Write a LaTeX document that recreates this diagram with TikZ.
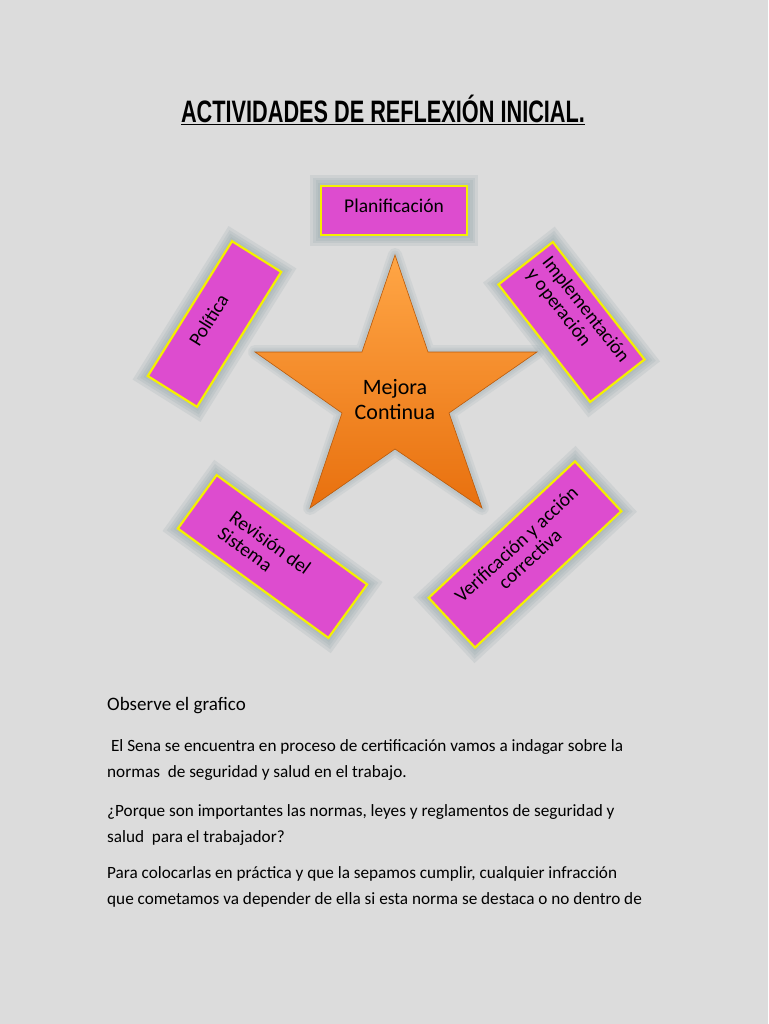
\documentclass[tikz,border=0pt]{standalone}
\usepackage{fontspec}
\setmainfont{Carlito}
\newfontfamily\titlefont{Liberation Sans}
\usetikzlibrary{calc}
\definecolor{bg}{HTML}{DCDCDC}
\definecolor{mag}{HTML}{DD4CCF}
\definecolor{yel}{HTML}{F4F000}
\definecolor{orA}{HTML}{FFA646}
\definecolor{orB}{HTML}{E8700E}
\definecolor{glc}{HTML}{8FA3A8}
\tikzset{
 x=1pt,y=-1pt,
 glow/.style={draw=glc,line width=#1,opacity=0.18},
 boxst/.style={draw=yel,line width=2.2pt,fill=mag,inner sep=0pt,text=black,align=center},
 bodyt/.style={anchor=west,inner sep=0pt,font=\fontsize{17.2}{20}\selectfont},
 btext/.style={font=\fontsize{19.5}{21}\selectfont},
}
\newcommand{\pbox}[6]{% name, x, y, w, h, angle
 \foreach \lw in {22pt,16pt,11pt,6pt}{
 \node[glow=\lw,minimum width=#4pt,minimum height=#5pt,rotate=#6] at (#2,#3) {};}
 \node[boxst,minimum width=#4pt,minimum height=#5pt,rotate=#6] (#1) at (#2,#3) {};}
\begin{document}
\begin{tikzpicture}
\fill[bg] (0,0) rectangle (768,1024);
\useasboundingbox (0,0) rectangle (768,1024);
\node[inner sep=0pt] (title) at (383,110) {\titlefont\bfseries\fontsize{31}{32}\selectfont\scalebox{0.70}[1]{\underline{ACTIVIDADES DE REFLEXIÓN INICIAL.}}};
% star
\coordinate (s1) at (395,255);
\coordinate (s2) at (428,352);
\coordinate (s3) at (537,352);
\coordinate (s4) at (449,413);
\coordinate (s5) at (482,508);
\coordinate (s6) at (395,449);
\coordinate (s7) at (310,508);
\coordinate (s8) at (342,413);
\coordinate (s9) at (255,352);
\coordinate (s10) at (362,352);
\foreach \lw in {14pt,9pt,5pt}{
\draw[line width=\lw,opacity=0.15,glc,line join=round] (s1)--(s2)--(s3)--(s4)--(s5)--(s6)--(s7)--(s8)--(s9)--(s10)--cycle;}
\shade[top color=orA,bottom color=orB,draw=orB!80!black,line width=0.6pt] (s1)--(s2)--(s3)--(s4)--(s5)--(s6)--(s7)--(s8)--(s9)--(s10)--cycle;
\node[align=center,font=\fontsize{22}{25}\selectfont] (mc) at (395,400) {Mejora\\Continua};
% boxes
\pbox{plan}{394}{210.5}{146}{49}{0}
\node[btext] (plant) at ($(plan)+(0,-5)$) {Planificación};
\pbox{pol}{214.5}{324}{159}{58}{58}
\node[rotate=58,btext] (polt) at ($(pol)+(-6,-4)$) {Política};
\pbox{imp}{571.5}{322}{149}{69}{-52}
\node[rotate=-52,align=left,btext,font=\fontsize{19.5}{20}\selectfont] (impt) at ($(imp)+(6,-6)$) {Implementación\\y operación};
\pbox{rev}{272.5}{556.5}{186}{66}{-36}
\node[rotate=-36,align=left,btext,font=\fontsize{19.5}{20}\selectfont] (revt) at ($(rev)+(-8,-6)$) {Revisión del\\Sistema};
\pbox{ver}{525}{554.5}{200}{68}{43}
\node[rotate=43,align=center,btext,font=\fontsize{19.5}{20}\selectfont] (vert) at ($(ver)+(-2,-3)$) {Verificación y acción\\correctiva};
% text
\node[bodyt,font=\fontsize{19}{22}\selectfont] (t0) at (107,706) {Observe el grafico};
\node[bodyt] (t1) at (107,747) {\ El Sena se encuentra en proceso de certificación vamos a indagar sobre la};
\node[bodyt] (t2) at (107,773) {normas\ \ de seguridad y salud en el trabajo.};
\node[bodyt] (t3) at (107,812) {¿Porque son importantes las normas, leyes y reglamentos de seguridad y};
\node[bodyt] (t4) at (107,838) {salud\ \ para el trabajador?};
\node[bodyt] (t5) at (107,874) {Para colocarlas en práctica y que la sepamos cumplir, cualquier infracción};
\node[bodyt] (t6) at (107,900) {que cometamos va depender de ella si esta norma se destaca o no dentro de};
\end{tikzpicture}
\end{document}
